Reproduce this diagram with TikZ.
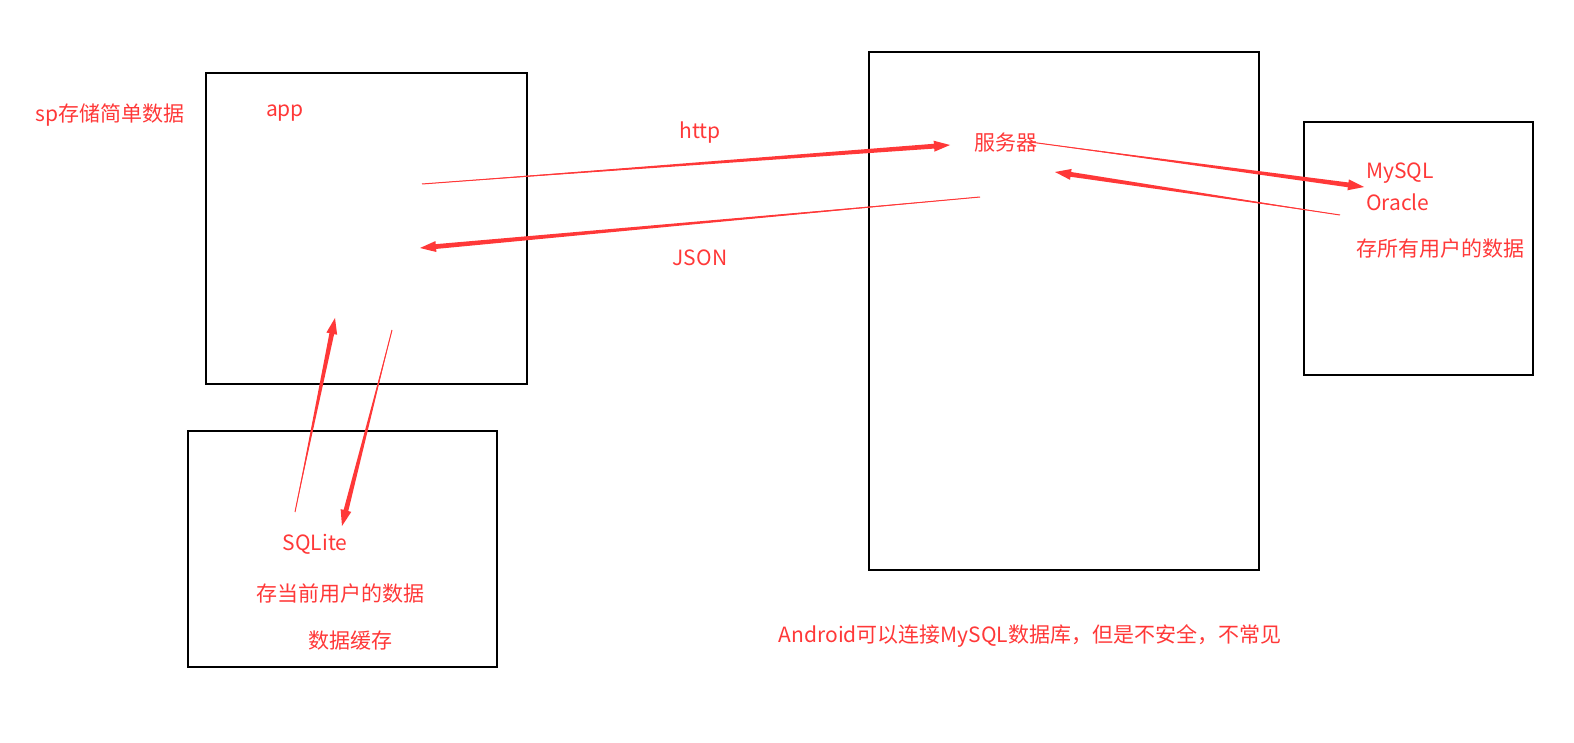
\documentclass[tikz,border=0pt]{standalone}
\usepackage{fontspec}
\setmainfont{Noto Sans CJK SC}
\usetikzlibrary{calc}
\definecolor{rr}{HTML}{FF3838}
\newcommand\tarrow[2]{%
  \coordinate (ba) at ($(#2)!16pt!(#1)$);
  \fill[rr] (#1) -- ($(ba)!2.4pt!90:(#2)$) -- ($(ba)!5.5pt!90:(#2)$) -- (#2) -- ($(ba)!5.5pt!-90:(#2)$) -- ($(ba)!2.4pt!-90:(#2)$) -- cycle;
  \draw[rr,line width=1pt] (#1) -- (ba);}
\begin{document}
\begin{tikzpicture}[x=1pt,y=-1pt,
  box/.style={draw,line width=2pt},
  lab/.style={text=rr,font=\fontsize{21}{25}\selectfont,inner sep=0pt}]
\useasboundingbox (0,0) rectangle (1574,743);
\draw[box] (206,73) rectangle (527,384);
\draw[box] (188,431) rectangle (497,667);
\draw[box] (869,52) rectangle (1259,570);
\draw[box] (1304,122) rectangle (1533,375);
\node[lab] (sp) at (110,115) {sp存储简单数据};
\node[lab] (app) at (285,113) {app};
\node[lab] (http) at (700,133) {http};
\node[lab] (json) at (700,258) {JSON};
\node[lab] (srv) at (1006,143) {服务器};
\node[lab,anchor=west] (my) at (1366,173) {MySQL};
\node[lab,anchor=west] (or) at (1366,202) {Oracle};
\node[lab] (all) at (1440,249) {存所有用户的数据};
\node[lab] (sq) at (315,544) {SQLite};
\node[lab] (cur) at (340,594) {存当前用户的数据};
\node[lab] (cache) at (350,641) {数据缓存};
\node[lab] (note) at (1030,636) {Android可以连接MySQL数据库，但是不安全，不常见};
\coordinate (a1) at (422,184); \coordinate (b1) at (950,145);
\coordinate (a2) at (980,197); \coordinate (b2) at (420,248);
\coordinate (a3) at (1030,142); \coordinate (b3) at (1364,187);
\coordinate (a4) at (1340,215); \coordinate (b4) at (1055,172);
\coordinate (a5) at (295,512); \coordinate (b5) at (335,318);
\coordinate (a6) at (392,330); \coordinate (b6) at (342,526);
\tarrow{a1}{b1}\tarrow{a2}{b2}\tarrow{a3}{b3}\tarrow{a4}{b4}\tarrow{a5}{b5}\tarrow{a6}{b6}
\end{tikzpicture}
\end{document}
